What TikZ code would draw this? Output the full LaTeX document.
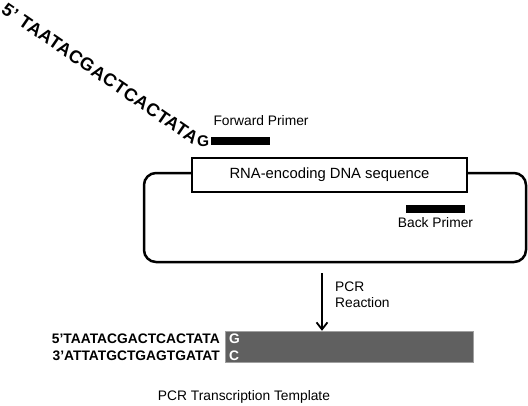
\documentclass[tikz,border=0pt]{standalone}
\usepackage{fontspec}
\setmainfont{Liberation Sans}
\usepackage{tikz}
\usetikzlibrary{arrows.meta}
\usetikzlibrary{positioning}
\definecolor{bargray}{RGB}{96, 96, 96}
\definecolor{edgegray}{RGB}{160, 160, 160}

\tikzset{
    lbl/.style={font=\fontsize{13.8}{16}\selectfont, inner sep=0pt},
    seqtext/.style={font=\fontsize{13.8}{15}\selectfont\bfseries, inner sep=0pt},
    primer/.style={fill=black, minimum width=59pt, minimum height=8pt, inner sep=0pt},
    plasmid/.style={draw, line width=2.5pt, rounded corners=12pt, minimum width=382pt, minimum height=89pt},
    insert/.style={draw, line width=2.5pt, fill=white, minimum width=275pt, minimum height=34pt, font=\fontsize{14.8}{17}\selectfont},
}

\begin{document}
\begin{tikzpicture}[x=1pt, y=-1pt]
            \useasboundingbox (0,0) rectangle (528,405);
            % Plasmid with insert
            \node[plasmid]                              (plasmid) at (335.0, 217.5) {};
            \node[insert]                               (insert)  at (329.5, 175.0) {RNA-encoding DNA sequence};
            % Promoter tail & forward primer
            \node[primer]                               (fwd)     at (240.0, 141.0) {};
            \node[font=\fontsize{15.5}{17}\selectfont\bfseries, inner sep=0pt, anchor=east]
                                                        (gtail)   at ([xshift=-1pt]fwd.west) {G};
            \node[font=\fontsize{18}{20}\selectfont\bfseries\addfontfeature{LetterSpace=3}, inner sep=0pt, anchor=base east, rotate=-34.5]
                                                        (tail)    at (193.0, 145.0) {5' TAATACGACTCACTATA};
            \node[lbl, anchor=base west]                (fwdlbl)  at ([xshift=3pt, yshift=11pt]fwd.north west) {Forward Primer};
            % Back primer
            \node[primer]                               (bck)     at (435.5, 209.0) {};
            \node[lbl, below=4pt of bck]                (bcklbl)  {Back Primer};
            % PCR step
            \node[fill=bargray, draw=edgegray, minimum width=248pt, minimum height=31pt, inner sep=0pt]
                                                        (template) at (349.0, 346.5) {};
            \coordinate                                 (rxn)     at (322.0, 273.0);
            \draw[line width=1.8pt, -{Straight Barb[length=7pt, width=11pt]}]
                                                        (rxn) -- (rxn |- template.north);
            \node[lbl, align=left, anchor=north west]   (rxnlbl)  at (335.0, 282.0) {PCR\\Reaction};
            % Template strands
            \node[seqtext, white, anchor=west]          (gtop)    at (229.0, 339.0) {G};
            \node[seqtext, white, anchor=west]          (cbot)    at (229.0, 356.0) {C};
            \node[seqtext, anchor=east]                 (top)     at (220.0, 339.0) {5'TAATACGACTCACTATA};
            \node[seqtext, anchor=east]                 (bot)     at (220.0, 356.0) {3'ATTATGCTGAGTGATAT};
            \node[lbl]                                  (title)   at (244.0, 397.0) {PCR Transcription Template};
\end{tikzpicture}
\end{document}
